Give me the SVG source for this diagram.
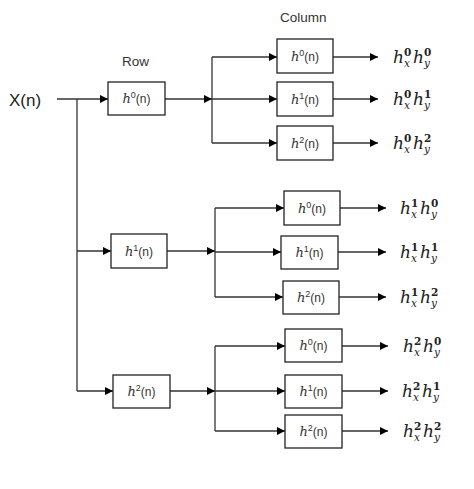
<svg xmlns="http://www.w3.org/2000/svg" width="474" height="489" viewBox="0 0 474 489">
<defs>
<marker id="ah" viewBox="0 0 10 10" refX="10" refY="5" markerWidth="8" markerHeight="8" markerUnits="userSpaceOnUse" orient="auto">
<path d="M0,0 L10,5 L0,10 Z" fill="#000"/>
</marker>
<style>
.box{fill:#fff;stroke:#222;stroke-width:1.3}
.c{fill:none;stroke:#333;stroke-width:1.3}
.a{marker-end:url(#ah)}
.bt{font-family:"Liberation Sans","DejaVu Sans",sans-serif;font-size:12px;fill:#333;text-anchor:middle}
.hi{font-family:"DejaVu Serif","Liberation Serif",serif;font-style:italic}
.lab{font-family:"Liberation Sans","DejaVu Sans",sans-serif;font-size:13.5px;fill:#333}
.m{font-family:"DejaVu Serif","Liberation Serif",serif;font-style:italic;font-size:17px;fill:#222}
.s{font-size:10.5px}
.d{font-style:normal;font-weight:bold}
</style>
</defs>
<rect width="474" height="489" fill="#fff"/>
<text x="9" y="106" font-family="Liberation Sans,DejaVu Sans,sans-serif" font-size="17" fill="#222">X(n)</text>
<text class="lab" x="122" y="66">Row</text>
<text class="lab" x="280" y="22">Column</text>
<g id="connectors">
<path class="c a" d="M57,99 H108"/>
<path class="c" d="M77,99 V391"/>
<path class="c a" d="M77,251 H111"/>
<path class="c a" d="M77,391 H113"/>
<path class="c a" d="M165,99 H212"/>
<path class="c" d="M212,57 V143"/>
<path class="c a" d="M212,57 H277"/>
<path class="c a" d="M212,99 H277"/>
<path class="c a" d="M212,143 H277"/>
<path class="c a" d="M333,57 H378"/>
<path class="c a" d="M333,99 H378"/>
<path class="c a" d="M333,143 H378"/>
<path class="c a" d="M167,251 H215"/>
<path class="c" d="M215,208 V297"/>
<path class="c a" d="M215,208 H284"/>
<path class="c a" d="M215,252 H281"/>
<path class="c a" d="M215,297 H283"/>
<path class="c a" d="M340,208 H386"/>
<path class="c a" d="M338,252 H386"/>
<path class="c a" d="M339,297 H386"/>
<path class="c a" d="M170,391 H215"/>
<path class="c" d="M215,346 V431"/>
<path class="c a" d="M215,346 H285"/>
<path class="c a" d="M215,391 H285"/>
<path class="c a" d="M215,431 H285"/>
<path class="c a" d="M342,346 H388"/>
<path class="c a" d="M342,391 H388"/>
<path class="c a" d="M342,431 H388"/>
</g>
<g id="row0"><rect class="box" x="108" y="82" width="57" height="33"/><text class="bt" x="136.5" y="103"><tspan class="hi" font-size="13">h</tspan><tspan font-size="9" dy="-5">0</tspan><tspan dy="5">(n)</tspan></text></g>
<g id="row1"><rect class="box" x="111" y="234" width="56" height="34"/><text class="bt" x="139" y="256"><tspan class="hi" font-size="13">h</tspan><tspan font-size="9" dy="-5">1</tspan><tspan dy="5">(n)</tspan></text></g>
<g id="row2"><rect class="box" x="113" y="375" width="57" height="33"/><text class="bt" x="141.5" y="396"><tspan class="hi" font-size="13">h</tspan><tspan font-size="9" dy="-5">2</tspan><tspan dy="5">(n)</tspan></text></g>

<g id="c00"><rect class="box" x="277" y="39" width="56" height="34"/><text class="bt" x="305" y="61"><tspan class="hi" font-size="13">h</tspan><tspan font-size="9" dy="-5">0</tspan><tspan dy="5">(n)</tspan></text></g>
<g id="c01"><rect class="box" x="277" y="82" width="56" height="34"/><text class="bt" x="305" y="104"><tspan class="hi" font-size="13">h</tspan><tspan font-size="9" dy="-5">1</tspan><tspan dy="5">(n)</tspan></text></g>
<g id="c02"><rect class="box" x="277" y="126" width="56" height="34"/><text class="bt" x="305" y="148"><tspan class="hi" font-size="13">h</tspan><tspan font-size="9" dy="-5">2</tspan><tspan dy="5">(n)</tspan></text></g>

<g id="c10"><rect class="box" x="284" y="191" width="56" height="34"/><text class="bt" x="312" y="213"><tspan class="hi" font-size="13">h</tspan><tspan font-size="9" dy="-5">0</tspan><tspan dy="5">(n)</tspan></text></g>
<g id="c11"><rect class="box" x="281" y="236" width="57" height="33"/><text class="bt" x="309.5" y="257"><tspan class="hi" font-size="13">h</tspan><tspan font-size="9" dy="-5">1</tspan><tspan dy="5">(n)</tspan></text></g>
<g id="c12"><rect class="box" x="283" y="281" width="56" height="33"/><text class="bt" x="311" y="302"><tspan class="hi" font-size="13">h</tspan><tspan font-size="9" dy="-5">2</tspan><tspan dy="5">(n)</tspan></text></g>

<g id="c20"><rect class="box" x="285" y="329" width="57" height="33"/><text class="bt" x="313.5" y="350"><tspan class="hi" font-size="13">h</tspan><tspan font-size="9" dy="-5">0</tspan><tspan dy="5">(n)</tspan></text></g>
<g id="c21"><rect class="box" x="285" y="375" width="57" height="33"/><text class="bt" x="313.5" y="396"><tspan class="hi" font-size="13">h</tspan><tspan font-size="9" dy="-5">1</tspan><tspan dy="5">(n)</tspan></text></g>
<g id="c22"><rect class="box" x="285" y="415" width="57" height="33"/><text class="bt" x="313.5" y="436"><tspan class="hi" font-size="13">h</tspan><tspan font-size="9" dy="-5">2</tspan><tspan dy="5">(n)</tspan></text></g>

<g id="outputs">
<text class="m" y="63"><tspan x="393">h</tspan><tspan class="s d" x="404" dy="-7">0</tspan><tspan class="s" x="404" dy="11">x</tspan><tspan x="413" dy="-4">h</tspan><tspan class="s d" x="424" dy="-7">0</tspan><tspan class="s" x="424" dy="11">y</tspan></text>
<text class="m" y="105"><tspan x="393">h</tspan><tspan class="s d" x="404" dy="-7">0</tspan><tspan class="s" x="404" dy="11">x</tspan><tspan x="413" dy="-4">h</tspan><tspan class="s d" x="424" dy="-7">1</tspan><tspan class="s" x="424" dy="11">y</tspan></text>
<text class="m" y="149"><tspan x="393">h</tspan><tspan class="s d" x="404" dy="-7">0</tspan><tspan class="s" x="404" dy="11">x</tspan><tspan x="413" dy="-4">h</tspan><tspan class="s d" x="424" dy="-7">2</tspan><tspan class="s" x="424" dy="11">y</tspan></text>
<text class="m" y="214"><tspan x="400">h</tspan><tspan class="s d" x="411" dy="-7">1</tspan><tspan class="s" x="411" dy="11">x</tspan><tspan x="420" dy="-4">h</tspan><tspan class="s d" x="431" dy="-7">0</tspan><tspan class="s" x="431" dy="11">y</tspan></text>
<text class="m" y="258"><tspan x="400">h</tspan><tspan class="s d" x="411" dy="-7">1</tspan><tspan class="s" x="411" dy="11">x</tspan><tspan x="420" dy="-4">h</tspan><tspan class="s d" x="431" dy="-7">1</tspan><tspan class="s" x="431" dy="11">y</tspan></text>
<text class="m" y="303"><tspan x="400">h</tspan><tspan class="s d" x="411" dy="-7">1</tspan><tspan class="s" x="411" dy="11">x</tspan><tspan x="420" dy="-4">h</tspan><tspan class="s d" x="431" dy="-7">2</tspan><tspan class="s" x="431" dy="11">y</tspan></text>
<text class="m" y="352"><tspan x="403">h</tspan><tspan class="s d" x="414" dy="-7">2</tspan><tspan class="s" x="414" dy="11">x</tspan><tspan x="423" dy="-4">h</tspan><tspan class="s d" x="434" dy="-7">0</tspan><tspan class="s" x="434" dy="11">y</tspan></text>
<text class="m" y="397"><tspan x="402">h</tspan><tspan class="s d" x="413" dy="-7">2</tspan><tspan class="s" x="413" dy="11">x</tspan><tspan x="422" dy="-4">h</tspan><tspan class="s d" x="433" dy="-7">1</tspan><tspan class="s" x="433" dy="11">y</tspan></text>
<text class="m" y="437"><tspan x="403">h</tspan><tspan class="s d" x="414" dy="-7">2</tspan><tspan class="s" x="414" dy="11">x</tspan><tspan x="423" dy="-4">h</tspan><tspan class="s d" x="434" dy="-7">2</tspan><tspan class="s" x="434" dy="11">y</tspan></text>
</g>
</svg>
